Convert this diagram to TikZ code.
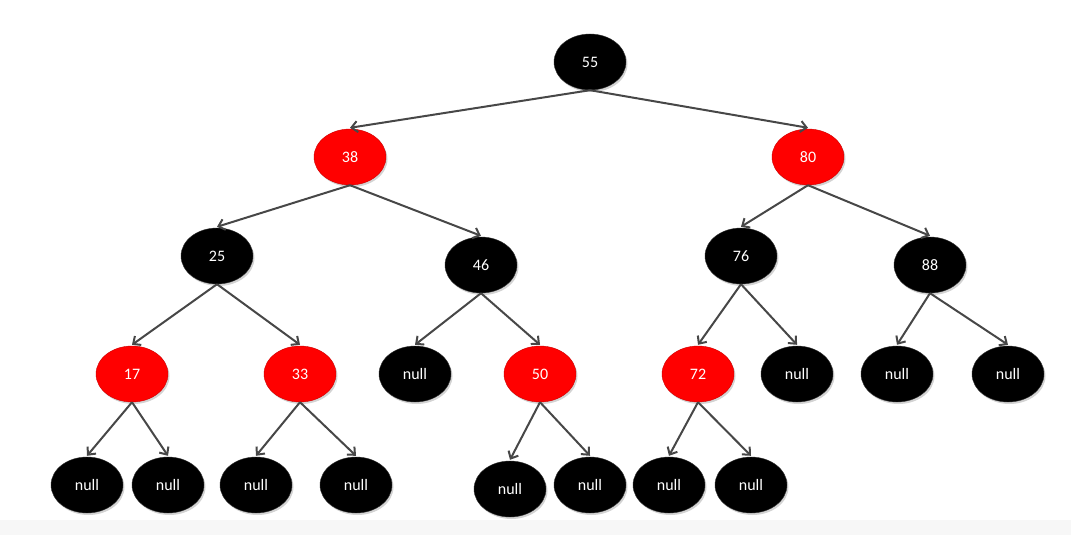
\documentclass[tikz,border=0pt]{standalone}
\usepackage{fontspec}
\setmainfont{Carlito}
\usetikzlibrary{shapes.geometric,shadows,arrows.meta}
\begin{document}
\begin{tikzpicture}[x=1pt,y=-1pt,
  nd/.style={ellipse,minimum width=72pt,minimum height=56pt,inner sep=0pt,font=\fontsize{16}{16}\selectfont,text=white,drop shadow={shadow xshift=1.5pt,shadow yshift=-2pt,opacity=0.35}},
  bk/.style={nd,fill=black,draw=black!80},
  rd/.style={nd,fill=red,draw=red!80!black},
  ed/.style={draw=black!72,line width=2pt,-{Straight Barb[length=6pt,width=11pt]}}]
\useasboundingbox (0,0) rectangle (1071,535);
\fill[black!3] (0,520) rectangle (1071,535);
\node[bk] (n55) at (590,62) {55};
\node[rd] (n38) at (350,157) {38};
\node[rd] (n80) at (808,157) {80};
\node[bk] (n25) at (217,256) {25};
\node[bk] (n46) at (481,265) {46};
\node[bk] (n76) at (741,256) {76};
\node[bk] (n88) at (930,265) {88};
\node[rd] (n17) at (132,374) {17};
\node[rd] (n33) at (300,374) {33};
\node[bk] (a1) at (415,374) {null};
\node[rd] (n50) at (540,374) {50};
\node[rd] (n72) at (698,374) {72};
\node[bk] (a2) at (797,374) {null};
\node[bk] (a3) at (897,374) {null};
\node[bk] (a4) at (1008,374) {null};
\node[bk] (b1) at (87,485) {null};
\node[bk] (b2) at (168,485) {null};
\node[bk] (b3) at (256,485) {null};
\node[bk] (b4) at (356,485) {null};
\node[bk] (b5) at (510,489) {null};
\node[bk] (b6) at (590,485) {null};
\node[bk] (b7) at (669,485) {null};
\node[bk] (b8) at (751,485) {null};
\foreach \a/\b in {n55/n38,n55/n80,n38/n25,n38/n46,n80/n76,n80/n88,n25/n17,n25/n33,n46/a1,n46/n50,n76/n72,n76/a2,n88/a3,n88/a4,n17/b1,n17/b2,n33/b3,n33/b4,n50/b5,n50/b6,n72/b7,n72/b8}
  \draw[ed] (\a.south) -- ([yshift=1pt]\b.north);
\end{tikzpicture}
\end{document}
